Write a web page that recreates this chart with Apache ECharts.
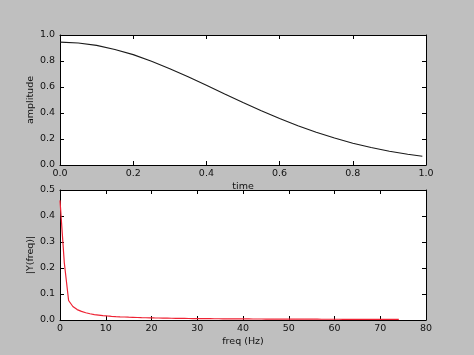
<!DOCTYPE html>
<html>
<head>
<meta charset="utf-8">
<script src="https://cdn.jsdelivr.net/npm/echarts@6/dist/echarts.min.js"></script>
<style>
html,body{margin:0;padding:0;background:#bfbfbf;}
#c{width:474px;height:355px;}
</style>
</head>
<body>
<div id="c"></div>
<script>
// Top subplot: signal vs time
const timeValues = [0, 0.05, 0.1, 0.15, 0.2, 0.25, 0.3, 0.35, 0.4, 0.45, 0.5, 0.55, 0.6, 0.65, 0.7, 0.75, 0.8, 0.85, 0.9, 0.95, 0.99];
const amplitudeValues = [0.945, 0.939, 0.920, 0.889, 0.849, 0.798, 0.741, 0.679, 0.614, 0.547, 0.481, 0.418, 0.358, 0.302, 0.252, 0.207, 0.168, 0.134, 0.106, 0.083, 0.067];

// Bottom subplot: spectrum magnitude vs frequency
const freqValues = [0, 0.94, 1.88, 2.81, 3.75, 4.69, 5.63, 6.56, 7.5, 8.44, 9.38, 10.31, 11.25, 12.19, 13.13, 14.06, 15, 15.94, 16.88, 17.81, 18.75, 19.69, 20.63, 21.56, 22.5, 23.44, 24.38, 25.31, 26.25, 27.19, 28.13, 29.06, 30, 30.94, 31.88, 32.81, 33.75, 34.69, 35.63, 36.56, 37.5, 38.44, 39.38, 40.31, 41.25, 42.19, 43.13, 44.06, 45, 45.94, 46.88, 47.81, 48.75, 49.69, 50.63, 51.56, 52.5, 53.44, 54.38, 55.31, 56.25, 57.19, 58.13, 59.06, 60, 60.94, 61.88, 62.81, 63.75, 64.69, 65.63, 66.56, 67.5, 68.44, 69.38, 70.31, 71.25, 72.19, 73.13, 74.06];
const magnitudeValues = [0.460, 0.220, 0.075, 0.052, 0.040, 0.033, 0.028, 0.024, 0.021, 0.019, 0.017, 0.0155, 0.0143, 0.0132, 0.0123, 0.0115, 0.0108, 0.0102, 0.0096, 0.0091, 0.0087, 0.0083, 0.0079, 0.0076, 0.0073, 0.0070, 0.0067, 0.0065, 0.0062, 0.0060, 0.0058, 0.0056, 0.0055, 0.0053, 0.0052, 0.0050, 0.0049, 0.0048, 0.0046, 0.0045, 0.0044, 0.0043, 0.0042, 0.0041, 0.0040, 0.0039, 0.0038, 0.0038, 0.0037, 0.0036, 0.0035, 0.0035, 0.0034, 0.0033, 0.0033, 0.0032, 0.0032, 0.0031, 0.0031, 0.0030, 0.0030, 0.0029, 0.0029, 0.0028, 0.0028, 0.0028, 0.0027, 0.0027, 0.0027, 0.0026, 0.0026, 0.0026, 0.0026, 0.0025, 0.0025, 0.0025, 0.0025, 0.0025, 0.0024, 0.0024];

const axisTitles = { topX: 'time', topY: 'amplitude', botX: 'freq (Hz)', botY: '|Y(freq)|' };

const FONT = 'DejaVu Sans';
const TXT = '#111';
const lineStyle = { color: '#000', width: 1 };

function xAx(gridIndex, min, max, interval, fmt, name, show) {
  return {
    type: 'value', gridIndex, min, max, interval,
    position: show ? 'bottom' : 'top',
    name: show ? name : '', nameLocation: 'middle', nameGap: 17, nameMoveOverlap: false,
    nameTextStyle: { fontFamily: FONT, fontSize: 9.5, color: TXT },
    axisLine: { show: true, onZero: false, lineStyle },
    axisTick: { show: true, inside: true, length: 4, lineStyle },
    axisLabel: { show: show, formatter: fmt, margin: 4, fontFamily: FONT, fontSize: 9.5, color: TXT },
    splitLine: { show: false }
  };
}
function yAx(gridIndex, min, max, interval, fmt, name, show) {
  return {
    type: 'value', gridIndex, min, max, interval,
    position: show ? 'left' : 'right',
    name: show ? name : '', nameLocation: 'middle', nameGap: 24, nameMoveOverlap: false,
    nameTextStyle: { fontFamily: FONT, fontSize: 9.5, color: TXT },
    axisLine: { show: true, onZero: false, lineStyle },
    axisTick: { show: true, inside: true, length: 4, lineStyle },
    axisLabel: { show: show, formatter: fmt, margin: 5, fontFamily: FONT, fontSize: 9.5, color: TXT },
    splitLine: { show: false }
  };
}
const f1 = v => v.toFixed(1);
const f0 = v => String(Math.round(v));

const chart = echarts.init(document.getElementById('c'), null, { renderer: 'canvas' });
chart.setOption({
  backgroundColor: '#bfbfbf',
  animation: false,
  grid: [
    { left: 60, top: 35, width: 366, height: 130, show: true, backgroundColor: '#fff', borderWidth: 0 },
    { left: 60, top: 190, width: 366, height: 130, show: true, backgroundColor: '#fff', borderWidth: 0 }
  ],
  xAxis: [
    xAx(0, 0, 1, 0.2, f1, axisTitles.topX, true),
    xAx(0, 0, 1, 0.2, f1, '', false),
    xAx(1, 0, 80, 10, f0, axisTitles.botX, true),
    xAx(1, 0, 80, 10, f0, '', false)
  ],
  yAxis: [
    yAx(0, 0, 1, 0.2, f1, axisTitles.topY, true),
    yAx(0, 0, 1, 0.2, f1, '', false),
    yAx(1, 0, 0.5, 0.1, f1, axisTitles.botY, true),
    yAx(1, 0, 0.5, 0.1, f1, '', false)
  ],
  series: [
    {
      type: 'line', xAxisIndex: 0, yAxisIndex: 0, showSymbol: false, smooth: false,
      data: timeValues.map((t, i) => [t, amplitudeValues[i]]),
      lineStyle: { color: '#1a1a1a', width: 1.1 }
    },
    {
      type: 'line', xAxisIndex: 2, yAxisIndex: 2, showSymbol: false, smooth: false,
      data: freqValues.map((f, i) => [f, magnitudeValues[i]]),
      lineStyle: { color: '#ee2233', width: 1.2 }
    }
  ]
});
</script>
</body>
</html>
